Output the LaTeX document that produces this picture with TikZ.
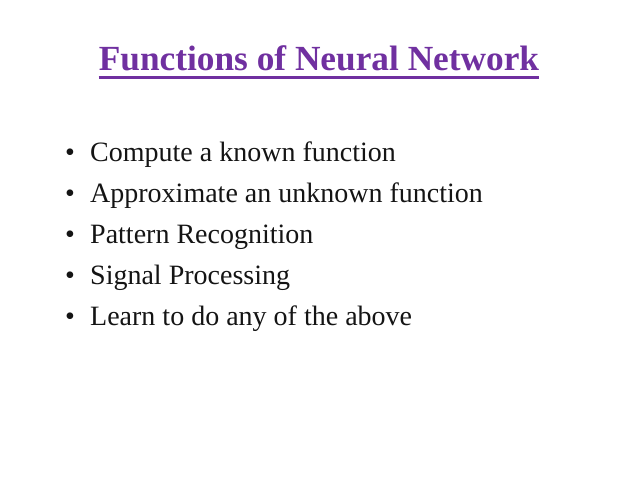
\documentclass[tikz,border=0pt]{standalone}
\usepackage{fontspec}
\setmainfont{Liberation Serif}
\definecolor{titlepurple}{RGB}{112,48,160}
\definecolor{bodytext}{RGB}{20,20,20}
\begin{document}
\begin{tikzpicture}[x=1pt,y=-1pt,
  titlestyle/.style={inner sep=0pt,anchor=base,font=\fontsize{35.3}{40}\selectfont\bfseries,text=titlepurple},
  itemstyle/.style={inner sep=0pt,anchor=base west,font=\fontsize{28}{32}\selectfont,text=bodytext},
  bulletstyle/.style={inner sep=0pt,anchor=base,font=\fontsize{28}{32}\selectfont,text=bodytext}]
\useasboundingbox (0,0) rectangle (638,479);
\node[titlestyle] (title) at (319,70) {Functions of Neural Network};
\draw[titlepurple,line width=3pt] ([yshift=-7pt]title.base west) -- ([yshift=-7pt]title.base east);
\foreach \i/\t in {0/Compute a known function,1/Approximate an unknown function,2/Pattern Recognition,3/Signal Processing,4/Learn to do any of the above}{
  \node[bulletstyle] (b\i) at (70,161+41*\i) {\textbullet};
  \node[itemstyle] (t\i) at (90,161+41*\i) {\t};
}
\end{tikzpicture}
\end{document}
